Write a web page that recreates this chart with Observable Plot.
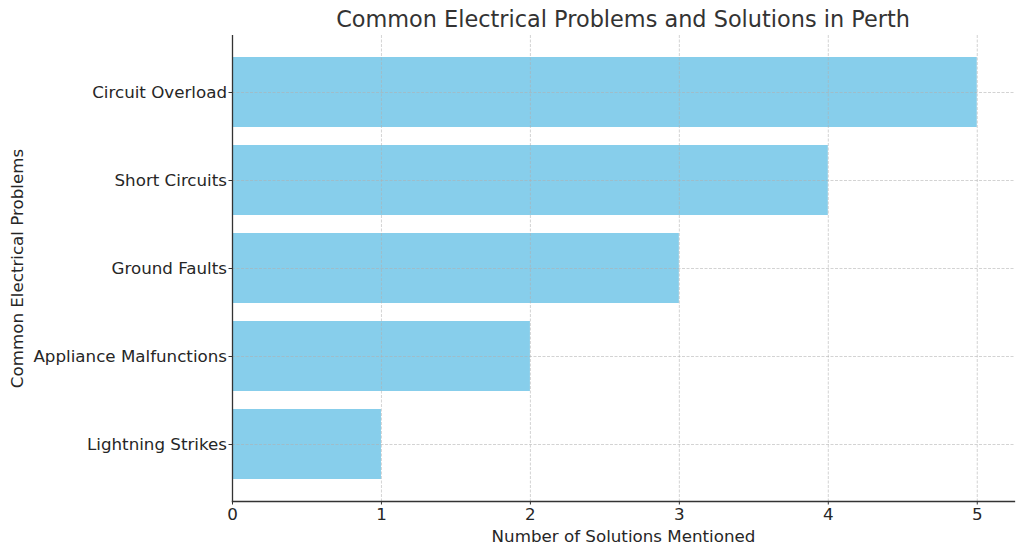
<!DOCTYPE html>
<html>
<head>
<meta charset="utf-8">
<script src="https://cdn.jsdelivr.net/npm/d3@7"></script>
<script src="https://cdn.jsdelivr.net/npm/@observablehq/plot@0.6"></script>
<style>
  html, body { margin: 0; padding: 0; background: #fff; }
  body { width: 1024px; height: 555px; overflow: hidden; font-family: "DejaVu Sans", sans-serif; }
  #title { height: 35px; box-sizing: border-box; padding-left: 232px; padding-right: 10px; text-align: center; }
  #title span { display: block; position: relative; top: 2px; line-height: 35px; font-size: 22.4px; color: #333; white-space: nowrap; }
  svg { display: block; }
</style>
</head>
<body>
<div id="title"><span>Common Electrical Problems and Solutions in Perth</span></div>
<div id="chart"></div>
<script>
const problems = ["Circuit Overload", "Short Circuits", "Ground Faults", "Appliance Malfunctions", "Lightning Strikes"];
const solutions = [5, 4, 3, 2, 1];
const xTicks = [0, 1, 2, 3, 4, 5];

const data = problems.map((p, i) => ({problem: p, count: solutions[i]}));

const gridStyle = {stroke: "#b0b0b0", strokeOpacity: 0.7, strokeWidth: 0.8, strokeDasharray: "3,1.5"};

const chart = Plot.plot({
  width: 1024,
  height: 520,
  marginLeft: 232,
  marginRight: 10,
  marginTop: 0,
  marginBottom: 54,
  style: {fontFamily: "DejaVu Sans, sans-serif", fontSize: "16.7px", color: "#262626", background: "#fff"},
  x: {domain: [0, 5.25], ticks: xTicks},
  y: {domain: problems, paddingInner: 0.2, paddingOuter: 0.24, align: 0.5},
  marks: [
    Plot.barX(data, {x: "count", y: "problem", fill: "#87CEEB"}),
    Plot.gridX(xTicks, {...gridStyle}),
    Plot.gridY(problems, {...gridStyle}),
    Plot.axisX({ticks: xTicks, tickFormat: d => String(d), tickSize: 3.5, tickPadding: 3, fontSize: 16.7, label: "Number of Solutions Mentioned", labelAnchor: "center", labelArrow: "none", labelOffset: 40, stroke: "#333"}),
    Plot.axisY({tickSize: 3.5, tickPadding: 2, fontSize: 16.7, label: "Common Electrical Problems", labelAnchor: "center", labelArrow: "none", labelOffset: 221, stroke: "#333"}),
    Plot.frame({anchor: "left", stroke: "#333", strokeWidth: 1.3}),
    Plot.frame({anchor: "bottom", stroke: "#333", strokeWidth: 1.3})
  ]
});
document.getElementById("chart").appendChild(chart);
</script>
</body>
</html>
